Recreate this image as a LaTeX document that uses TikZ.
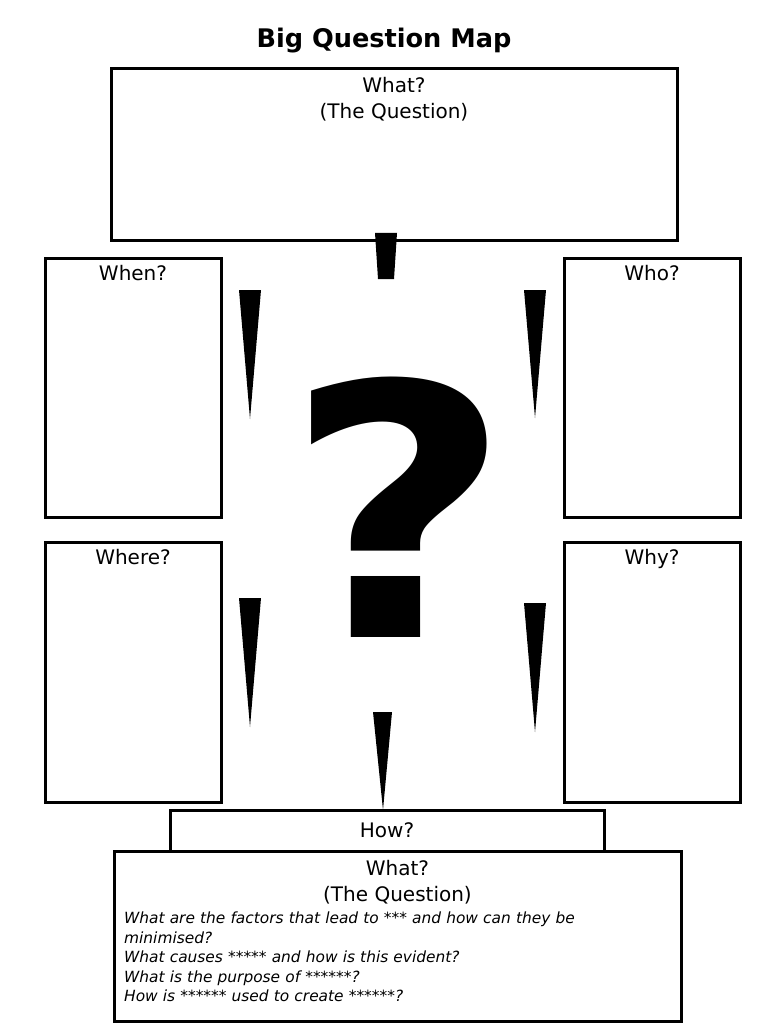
\documentclass[tikz,border=0pt]{standalone}
\usepackage{fontspec}
\setmainfont{DejaVu Sans}
\usetikzlibrary{positioning}

\tikzset{
  box/.style={draw,line width=3pt,rectangle,inner sep=0pt},
  head/.style={font=\fontsize{20}{26}\selectfont,align=center,inner sep=0pt},
  spike/.style={fill=black,draw=none},
}

\begin{document}
\begin{tikzpicture}[x=1pt,y=-1pt]
\useasboundingbox (0,0) rectangle (768,1024);

\node[font=\bfseries\fontsize{25.6}{28}\selectfont,inner sep=0pt,anchor=base] (title) at (384,48) {Big Question Map};

% the big question mark
\node[font=\bfseries\fontsize{351}{351}\selectfont,inner sep=0pt,xscale=1.12] (mark) at (399,507) {?};

% spikes
\fill[spike] (375,233) -- (397,233) -- (394,279) -- (378,279) -- cycle;
\fill[spike] (373,712) -- (392,712) -- (383,810) -- cycle;
\foreach \x/\y/\len in {250/290/129, 535/290/128, 250/598/129, 535/603/129}
  \fill[spike] (\x-11,\y) -- (\x+11,\y) -- (\x,\y+\len) -- cycle;

% boxes
\node[box,minimum width=566pt,minimum height=171pt] (what) at (394,154.5) {};
\node[box,minimum width=176pt,minimum height=259pt] (when) at (133,387.5) {};
\node[box,minimum width=176pt,minimum height=259pt] (who) at (652,387.5) {};
\node[box,minimum width=176pt,minimum height=260pt] (where) at (133,672) {};
\node[box,minimum width=176pt,minimum height=260pt] (why) at (652,672) {};
\node[box,minimum width=434pt,minimum height=41pt] (how) at (387,830.5) {};
\node[box,minimum width=567pt,minimum height=170pt] (answer) at (397.5,936) {};

% labels
\node[head,below=10pt of what.north] {What?\\(The Question)};
\node[head,below=9pt of when.north] {When?};
\node[head,below=9pt of who.north] {Who?};
\node[head,below=9pt of where.north] {Where?};
\node[head,below=9pt of why.north] {Why?};
\node[head] at (how) {How?};
\node[head,below=11pt of answer.north] {What?\\(The Question)};
\node[font=\itshape\fontsize{15.4}{19.6}\selectfont,inner sep=0pt,anchor=base west,
  text width=560pt,align=left] (examples) at (124,923.5)
  {What are the factors that lead to *** and how can they be\\
   minimised?\\
   What causes ***** and how is this evident?\\
   What is the purpose of ******?\\
   How is ****** used to create ******?};

\end{tikzpicture}
\end{document}
